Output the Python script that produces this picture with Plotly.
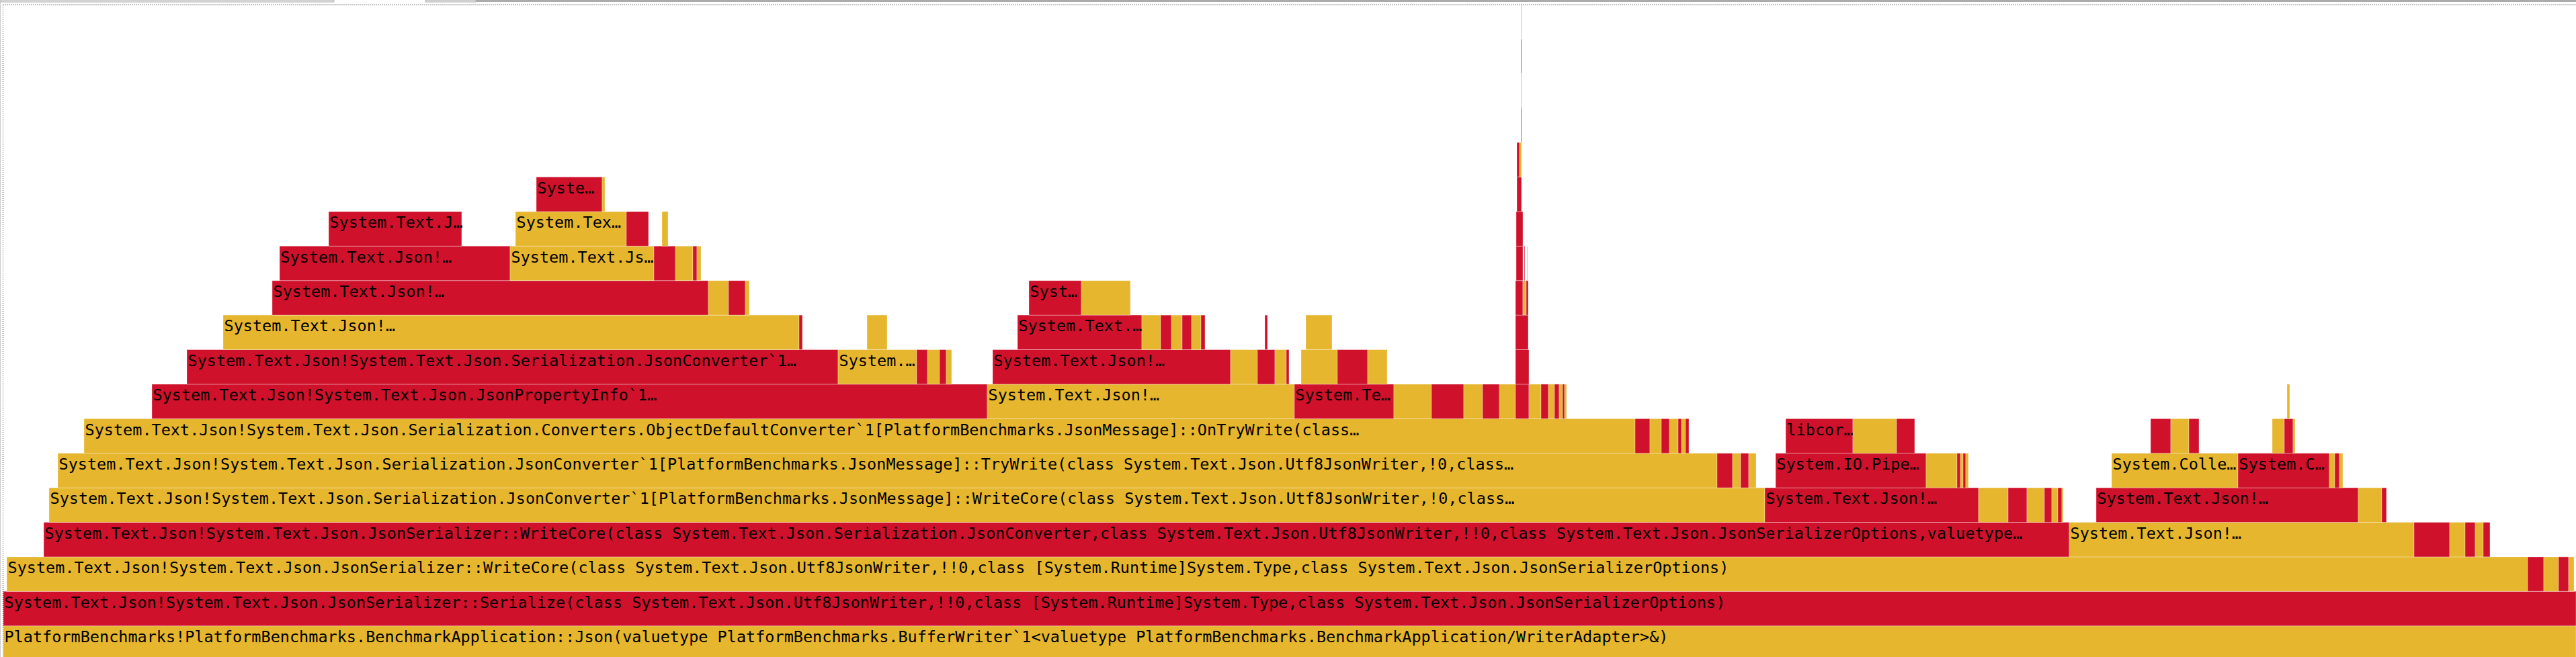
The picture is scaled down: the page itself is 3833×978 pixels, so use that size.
import plotly.graph_objects as go

# ---------------- data ----------------
# each frame: (start, end, kind, label); kind "R" = red frame, "Y" = yellow frame
L0 = "PlatformBenchmarks!PlatformBenchmarks.BenchmarkApplication::Json(valuetype PlatformBenchmarks.BufferWriter`1<valuetype PlatformBenchmarks.BenchmarkApplication/WriterAdapter>&)"
L1 = "System.Text.Json!System.Text.Json.JsonSerializer::Serialize(class System.Text.Json.Utf8JsonWriter,!!0,class [System.Runtime]System.Type,class System.Text.Json.JsonSerializerOptions)"
L2 = "System.Text.Json!System.Text.Json.JsonSerializer::WriteCore(class System.Text.Json.Utf8JsonWriter,!!0,class [System.Runtime]System.Type,class System.Text.Json.JsonSerializerOptions)"
L3 = "System.Text.Json!System.Text.Json.JsonSerializer::WriteCore(class System.Text.Json.Serialization.JsonConverter,class System.Text.Json.Utf8JsonWriter,!!0,class System.Text.Json.JsonSerializerOptions,valuetype…"
L4 = "System.Text.Json!System.Text.Json.Serialization.JsonConverter`1[PlatformBenchmarks.JsonMessage]::WriteCore(class System.Text.Json.Utf8JsonWriter,!0,class…"
L5 = "System.Text.Json!System.Text.Json.Serialization.JsonConverter`1[PlatformBenchmarks.JsonMessage]::TryWrite(class System.Text.Json.Utf8JsonWriter,!0,class…"
L6 = "System.Text.Json!System.Text.Json.Serialization.Converters.ObjectDefaultConverter`1[PlatformBenchmarks.JsonMessage]::OnTryWrite(class…"
L7 = "System.Text.Json!System.Text.Json.JsonPropertyInfo`1…"
L8 = "System.Text.Json!System.Text.Json.Serialization.JsonConverter`1…"
STJ = "System.Text.Json!…"

row_00 = [(5, 3833, "Y", L0)]
row_01 = [(5, 3833, "R", L1)]
row_02 = [(10, 3761, "Y", L2), (3761, 3785, "R", ""), (3785, 3807, "Y", ""),
          (3807, 3822, "R", ""), (3822, 3830, "Y", "")]
row_03 = [(65, 3079, "R", L3), (3079, 3592, "Y", STJ), (3592, 3645, "R", ""),
          (3645, 3668, "Y", ""), (3668, 3683, "R", ""), (3683, 3695, "Y", ""),
          (3695, 3705, "R", "")]
row_04 = [(73, 2626, "Y", L4), (2626, 2944, "R", STJ), (2944, 2988, "Y", ""),
          (2988, 3016, "R", ""), (3016, 3042, "Y", ""), (3042, 3053, "R", ""),
          (3053, 3062, "Y", ""), (3062, 3068, "R", ""), (3068, 3070, "Y", ""),
          (3119, 3509, "R", STJ), (3509, 3544, "Y", ""), (3544, 3551, "R", "")]
row_05 = [(86, 2555, "Y", L5), (2555, 2578, "R", ""), (2578, 2590, "Y", ""),
          (2590, 2602, "R", ""), (2602, 2613, "Y", ""),
          (2642, 2866, "R", "System.IO.Pipe…"), (2866, 2912, "Y", ""),
          (2912, 2917, "R", ""), (2917, 2921, "Y", ""), (2921, 2925, "R", ""),
          (2925, 2929, "Y", ""),
          (3142, 3330, "Y", "System.Colle…"), (3330, 3466, "R", "System.C…"),
          (3466, 3474, "Y", ""), (3474, 3481, "R", ""), (3481, 3486, "Y", "")]
row_06 = [(125, 2433, "Y", L6), (2433, 2455, "R", ""), (2455, 2472, "Y", ""),
          (2472, 2484, "R", ""), (2484, 2497, "Y", ""), (2497, 2502, "R", ""),
          (2502, 2508, "Y", ""), (2508, 2513, "R", ""),
          (2657, 2757, "R", "libcor…"), (2757, 2822, "Y", ""), (2822, 2849, "R", ""),
          (3200, 3230, "R", ""), (3230, 3257, "Y", ""), (3257, 3272, "R", ""),
          (3381, 3399, "Y", ""), (3399, 3412, "R", ""), (3412, 3415, "Y", "")]
row_07 = [(226, 1469, "R", L7), (1469, 1926, "Y", STJ), (1926, 2074, "R", "System.Te…"),
          (2074, 2130, "Y", ""), (2130, 2178, "R", ""), (2178, 2206, "Y", ""),
          (2206, 2231, "R", ""), (2231, 2255, "Y", ""), (2255, 2275, "R", ""),
          (2275, 2293, "Y", ""), (2293, 2304, "R", ""), (2304, 2313, "Y", ""),
          (2313, 2320, "R", ""), (2320, 2325, "Y", ""), (2325, 2328, "R", ""),
          (2328, 2331, "Y", ""), (3403, 3407, "Y", "")]
row_08 = [(278, 1247, "R", L8), (1247, 1364, "Y", "System.…"), (1364, 1380, "R", ""),
          (1380, 1398, "Y", ""), (1398, 1408, "R", ""), (1408, 1416, "Y", ""),
          (1477, 1831, "R", STJ), (1831, 1871, "Y", ""), (1871, 1897, "R", ""),
          (1897, 1914, "Y", ""), (1914, 1918, "R", ""),
          (1936, 1990, "Y", ""), (1990, 2035, "R", ""), (2035, 2064, "Y", ""),
          (2255, 2275, "R", "")]
row_09 = [(332, 1189, "Y", STJ), (1189, 1194, "R", ""), (1290, 1320, "Y", ""),
          (1514, 1699, "R", "System.Text.…"), (1699, 1727, "Y", ""), (1727, 1743, "R", ""),
          (1743, 1759, "Y", ""), (1759, 1773, "R", ""), (1773, 1787, "Y", ""),
          (1787, 1793, "R", ""), (1882, 1886, "R", ""), (1943, 1982, "Y", ""),
          (2255, 2274, "R", "")]
row_10 = [(405, 1054, "R", STJ), (1054, 1084, "Y", ""), (1084, 1109, "R", ""),
          (1109, 1115, "Y", ""), (1531, 1609, "R", "Syst…"), (1609, 1682, "Y", ""),
          (2255, 2266, "R", ""), (2266, 2271, "Y", ""), (2271, 2274, "R", "")]
row_11 = [(416, 759, "R", STJ), (759, 973, "Y", "System.Text.Js…"), (973, 1005, "R", ""),
          (1005, 1031, "Y", ""), (1031, 1037, "R", ""), (1037, 1043, "Y", ""),
          (2256, 2266, "R", ""), (2268, 2269, "R", ""), (2272, 2273, "Y", "")]
row_12 = [(489, 687, "R", "System.Text.J…"), (767, 932, "Y", "System.Tex…"),
          (932, 965, "R", ""), (985, 994, "Y", ""), (2256, 2266, "R", "")]
row_13 = [(798, 896, "R", "Syste…"), (896, 900, "Y", ""), (2257, 2264, "R", "")]
row_14 = [(2257, 2261, "R", ""), (2261, 2264, "Y", "")]
row_15 = [(2263, 2264, "R", "")]
row_16 = [(2263, 2264, "Y", "")]
row_17 = [(2263, 2264, "R", "")]
row_18 = [(2263, 2264, "Y", "")]

rows = [row_00, row_01, row_02, row_03, row_04, row_05, row_06, row_07, row_08,
        row_09, row_10, row_11, row_12, row_13, row_14, row_15, row_16, row_17, row_18]

# ---------------- styling ----------------
W, H = 3833, 978
ROW_PX = 51.4          # height of one stack level in pixels
ROW0_BOTTOM_PX = 983.1  # pixel position of the bottom of level 0
RED = "#D0112B"
YELLOW = "#E6B62E"
FONT = "DejaVu Sans Mono"
FONT_SIZE = 23.5
TEXT_DY = 0.64          # label baseline placement inside a level
TEXT_DX = 1.5

colors = {"R": RED, "Y": YELLOW}

bar_y, bar_base, bar_w, bar_c = [], [], [], []
txt_x, txt_y, txt_s = [], [], []
for level, frames in enumerate(rows):
    for start, end, kind, label in frames:
        bar_y.append(level + 0.5)
        bar_base.append(start)
        bar_w.append(end - start)
        bar_c.append(colors[kind])
        if label:
            txt_x.append(start + TEXT_DX)
            txt_y.append(level + TEXT_DY)
            txt_s.append(label)

fig = go.Figure()
fig.add_trace(go.Bar(
    orientation="h", y=bar_y, x=bar_w, base=bar_base, width=1.0,
    marker=dict(color=bar_c, line=dict(color="rgba(255,255,255,0.35)", width=1)),
    hoverinfo="skip", showlegend=False,
))
fig.add_trace(go.Scatter(
    x=txt_x, y=txt_y, text=txt_s, mode="text", textposition="middle right",
    textfont=dict(family=FONT, size=FONT_SIZE, color="black"),
    hoverinfo="skip", showlegend=False, cliponaxis=True,
))

ymin = (ROW0_BOTTOM_PX - H) / ROW_PX
ymax = ymin + H / ROW_PX

def px_x(p):
    return p / W

def px_y(p):
    return 1 - p / H

shapes = [
    # window chrome strip at the very top
    dict(type="rect", xref="paper", yref="paper", x0=px_x(0), x1=px_x(497),
         y0=px_y(3), y1=px_y(0), fillcolor="#e4e4e4", line=dict(color="#b4b4b4", width=1)),
    dict(type="rect", xref="paper", yref="paper", x0=px_x(633), x1=px_x(708),
         y0=px_y(3), y1=px_y(0), fillcolor="#dedede", line=dict(color="#b4b4b4", width=1)),
    dict(type="rect", xref="paper", yref="paper", x0=px_x(708), x1=px_x(W),
         y0=px_y(3), y1=px_y(0), fillcolor="#ababab", line=dict(width=0)),
    # dotted focus border
    dict(type="line", xref="paper", yref="paper", x0=px_x(4.5), x1=px_x(W),
         y0=px_y(7), y1=px_y(7), line=dict(color="#222222", width=1, dash="1px,2px")),
    dict(type="line", xref="paper", yref="paper", x0=px_x(4.5), x1=px_x(4.5),
         y0=px_y(7), y1=px_y(H), line=dict(color="#222222", width=1, dash="1px,2px")),
    dict(type="line", xref="paper", yref="paper", x0=px_x(0.5), x1=px_x(0.5),
         y0=px_y(3), y1=px_y(H), line=dict(color="#cccccc", width=1)),
]

fig.update_layout(
    width=W, height=H, margin=dict(l=0, r=0, t=0, b=0),
    paper_bgcolor="white", plot_bgcolor="white",
    barmode="overlay", showlegend=False,
    xaxis=dict(range=[0, W], visible=False, fixedrange=True),
    yaxis=dict(range=[ymin, ymax], visible=False, fixedrange=True),
    shapes=shapes,
)

fig.write_html("out.html", config={"displayModeBar": False, "staticPlot": True},
               post_script="document.body.style.margin='0';document.body.style.overflow='hidden';")
